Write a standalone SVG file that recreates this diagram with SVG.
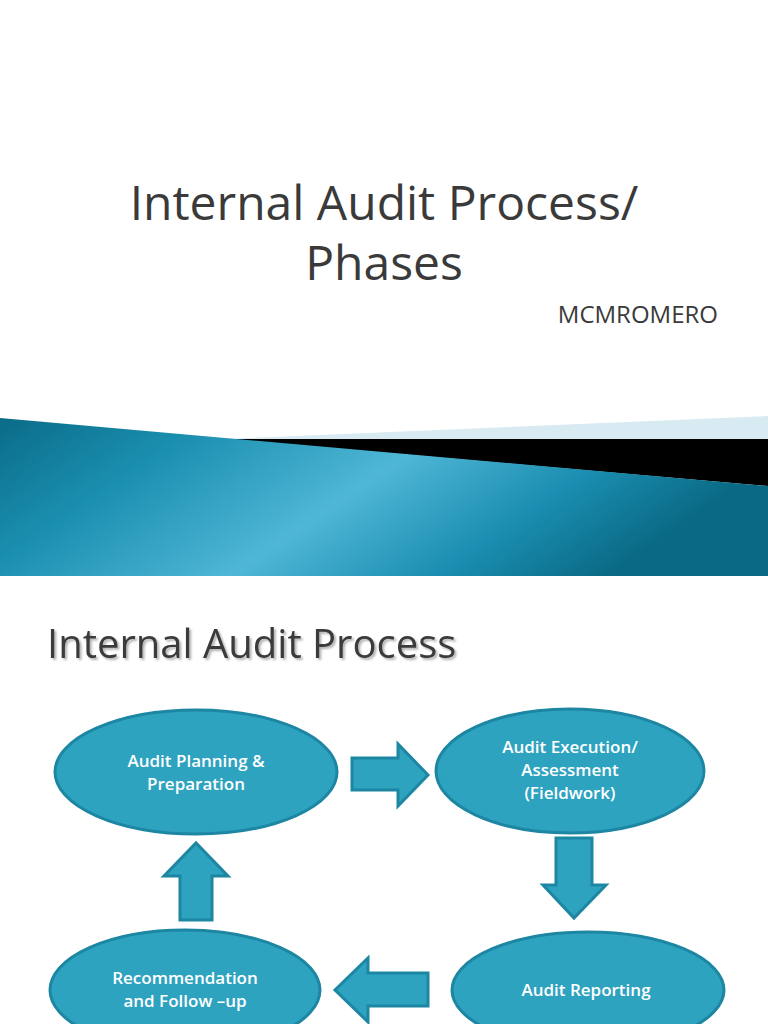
<svg xmlns="http://www.w3.org/2000/svg" width="768" height="1024" viewBox="0 0 768 1024">
<defs>
<linearGradient id="band" x1="0" y1="0" x2="1" y2="0.3">
<stop offset="0" stop-color="#0a6c88"/>
<stop offset="0.25" stop-color="#1b8fb0"/>
<stop offset="0.55" stop-color="#4fb6d6"/>
<stop offset="0.8" stop-color="#1a8db0"/>
<stop offset="1" stop-color="#0a6a85"/>
</linearGradient>
<filter id="sh"><feDropShadow dx="2" dy="2" stdDeviation="1" flood-color="#000" flood-opacity="0.3"/></filter>
</defs>
<style>
.n{fill:#2ea3c0;stroke:#1d86a2;stroke-width:3}
.t{font-family:"Open Sans","DejaVu Sans",sans-serif;fill:#fff;font-size:17px;text-anchor:middle;font-weight:600}
.h{font-family:"Open Sans","DejaVu Sans",sans-serif;fill:#3a3a3a}
</style>
<rect width="768" height="1024" fill="#fff"/>
<text class="h" x="384" y="220" font-size="48" text-anchor="middle">Internal Audit Process/</text>
<text class="h" x="384" y="280" font-size="48" text-anchor="middle">Phases</text>
<text class="h" x="718" y="323" font-size="24" text-anchor="end" fill="#444">MCMROMERO</text>
<polygon points="225,439 768,416 768,439" fill="#d8eaf2"/>
<polygon points="225,439 768,439 768,486" fill="#000"/>
<polygon points="0,418 768,486 768,576 0,576" fill="url(#band)"/>
<text class="h" x="47" y="658" font-size="40" filter="url(#sh)">Internal Audit Process</text>
<g id="connectors">
<polygon class="n" points="352,758 398,758 398,744 428,775 398,806 398,790 352,790"/>
<polygon class="n" points="556,838 592,838 592,885 606,885 574,918 543,885 556,885"/>
<polygon class="n" points="428,973 368,973 368,958 335,990 368,1022 368,1006 428,1006"/>
<polygon class="n" points="180,920 212,920 212,876 228,876 196,843 164,876 180,876"/>
</g>
<g id="n1"><ellipse class="n" cx="196" cy="772" rx="141" ry="62"/>
<text class="t" x="196" y="767">Audit Planning &amp;</text><text class="t" x="196" y="790">Preparation</text></g>
<g id="n2"><ellipse class="n" cx="570" cy="771" rx="134" ry="62"/>
<text class="t" x="570" y="753">Audit Execution/</text><text class="t" x="570" y="776">Assessment</text><text class="t" x="570" y="799">(Fieldwork)</text></g>
<g id="n3"><ellipse class="n" cx="588" cy="990" rx="136" ry="58"/>
<text class="t" x="586" y="996">Audit Reporting</text></g>
<g id="n4"><ellipse class="n" cx="185" cy="990" rx="135" ry="60"/>
<text class="t" x="185" y="984">Recommendation</text><text class="t" x="185" y="1007">and Follow –up</text></g>
</svg>
